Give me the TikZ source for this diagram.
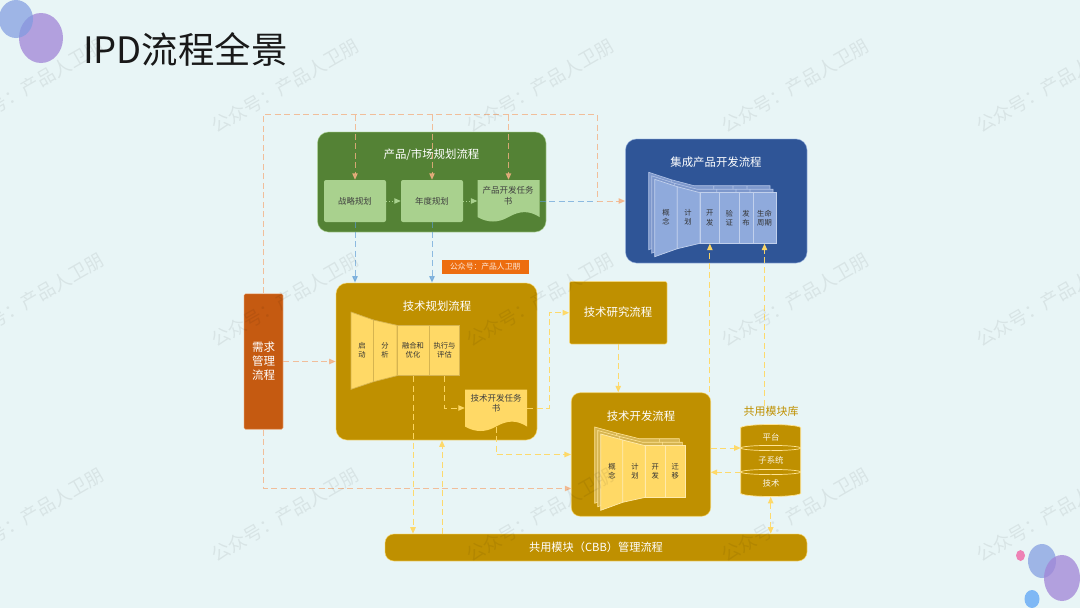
\documentclass[tikz,border=0pt]{standalone}
\usepackage{fontspec}
\setmainfont{Noto Sans CJK SC}
\usetikzlibrary{arrows.meta,positioning}
\definecolor{bgc}{HTML}{E8F5F6}
\definecolor{pmc}{HTML}{548235}
\definecolor{pmlt}{HTML}{A9D18E}
\definecolor{jcc}{HTML}{2F5597}
\definecolor{jclt}{HTML}{8FAADC}
\definecolor{jcbk}{HTML}{7E98CC}
\definecolor{tec}{HTML}{BF9000}
\definecolor{telt}{HTML}{FFD966}
\definecolor{tebk}{HTML}{D6B450}
\definecolor{reqc}{HTML}{C55A11}
\definecolor{peach}{HTML}{F4B183}
\definecolor{skyc}{HTML}{5B9BD5}
\definecolor{dotb}{HTML}{7F9BE0}
\definecolor{dotv}{HTML}{A184D6}
\definecolor{dotp}{HTML}{F06EAA}
\definecolor{dots}{HTML}{7FB8F5}
\definecolor{tagc}{HTML}{ED6D0F}
\newcommand{\docshape}[2]{\fill[#1,shift={(#2)}] (0,0) -- (62,0) -- (62,37) .. controls (51,30) and (42,31) .. (31,37) .. controls (21,43) and (10,43) .. (0,37) -- cycle;}
\begin{document}
\begin{tikzpicture}[x=1pt,y=-1pt,>={Stealth[length=6.5pt,width=5.5pt,inset=0pt]},
	panel/.style={rounded corners=11pt,inner sep=0pt,text=white,draw opacity=.6,line width=.7pt},
	pm_box/.style={panel,fill=pmc,draw=pmlt},
	jc_box/.style={panel,fill=jcc,draw=jclt},
	te_box/.style={panel,fill=tec,draw=telt},
	heading/.style={inner sep=0pt,text=white,font=\fontsize{11.4}{14}\selectfont},
	pm_step/.style={fill=pmlt,rounded corners=2pt,minimum width=62pt,minimum height=42pt,inner sep=0pt,text=black!75,font=\fontsize{8.4}{11}\selectfont},
	jc_sheet/.style={fill=jclt,draw=jclt!55!white,line width=.7pt},
	jc_back/.style={fill=jcbk,draw=jclt!70!white,line width=.6pt},
	te_sheet/.style={fill=telt,draw=tebk,line width=.7pt},
	td_sheet/.style={fill=telt,draw=telt!55!white,line width=.7pt},
	te_back/.style={fill=tebk,draw=telt!70!white,line width=.6pt},
	cell/.style={minimum height=#1,inner sep=0pt,text=black!80,align=center,font=\fontsize{7.3}{9.2}\selectfont},
	doc_text/.style={inner sep=0pt,align=center,text=black!75,font=\fontsize{8.5}{10.7}\selectfont},
	doc_box/.style={minimum width=62pt,inner sep=0pt},
	lib_line/.style={draw=telt!70!white,line width=.7pt},
	lib_text/.style={inner sep=0pt,text=white!90!tec,font=\fontsize{8.4}{10}\selectfont},
	link/.style={line width=1pt,dash pattern=on 6pt off 3.5pt,opacity=.8},
	plink/.style={link,draw=peach,-},
	blink/.style={link,draw=skyc,opacity=.65},
	ylink/.style={link,draw=telt,opacity=.95},
	glink/.style={line width=1pt,draw=pmlt,dotted},
	mark_text/.style={inner sep=0pt,rotate=30,text=black,opacity=.065,font=\fontsize{18.5}{20}\selectfont}]
	\path[use as bounding box,clip] (0,0) rectangle (1080,608);
	\fill[bgc] (0,0) rectangle (1080,608);

	\fill[dotv,opacity=.75] (41,38) ellipse (22pt and 25pt);
	\fill[dotb,opacity=.7] (16,19) ellipse (17pt and 19pt);
	\fill[dotp,opacity=.85] (1020.5,555.5) ellipse (4.5pt and 5.5pt);
	\fill[dotb,opacity=.7] (1042,561) ellipse (14pt and 17pt);
	\fill[dotv,opacity=.75] (1062,578) ellipse (18pt and 23pt);
	\fill[dots] (1032,599) ellipse (7.5pt and 9pt);
	\node[inner sep=0pt,anchor=west,text=black!90,font=\fontsize{36.4}{40}\selectfont] (title) at (83,49) {IPD流程全景};

	\node[pm_box,minimum width=228.5pt,minimum height=100pt] (pm) at (431.75,182) {};
	\node[heading] (pm_t) at (431.5,154.5) {产品/市场规划流程};
	\node[pm_step] (pm_0) at (355,201) {战略规划};
	\node[pm_step] (pm_1) at (432,201) {年度规划};
	\docshape{pmlt}{477.5,180}
	\node[doc_box,minimum height=42pt] (pm_2) at (508.5,201) {};
	\node[doc_text] (pm_2t) at (508,195.5) {产品开发任务\\书};

	\node[jc_box,minimum width=181.5pt,minimum height=124pt] (jc) at (716.25,201) {};
	\node[heading] (jc_t) at (716,162) {集成产品开发流程};
	\foreach \d/\e in {-6/-7,-3/-3.5}
		\draw[jc_back,shift={(\d,\e)}] (654.7,179.3) -- (677.3,186.7) -- (700,192.7) -- (776,192.7) -- (776,243.3) -- (700,243.3) -- (677.3,248.7) -- (654.7,256.7) -- cycle
			(677.3,186.7) -- (677.3,248.7) (719.7,192.7) -- (719.7,243.3) (739,192.7) -- (739,243.3) (753,192.7) -- (753,243.3);
	\draw[jc_sheet] (654.7,179.3) -- (677.3,186.7) -- (677.3,248.7) -- (654.7,256.7) -- cycle;
	\draw[jc_sheet] (677.3,186.7) -- (700,192.7) -- (700,243.3) -- (677.3,248.7) -- cycle;
	\node[cell=1pt] (jc_0) at (666,217.5) {概\\念};
	\node[cell=1pt] (jc_1) at (688,217.5) {计\\划};
	\node[jc_sheet,cell=50.6pt,minimum width=19.7pt] (jc_2) at (709.85,218) {开\\发};
	\node[jc_sheet,cell=50.6pt,minimum width=19.3pt] (jc_3) at (729.35,218) {验\\证};
	\node[jc_sheet,cell=50.6pt,minimum width=14pt] (jc_4) at (746,218) {发\\布};
	\node[jc_sheet,cell=50.6pt,minimum width=23pt] (jc_5) at (764.5,218) {生命\\周期};

	\node[te_box,minimum width=201pt,minimum height=157pt] (tp) at (436.5,361.5) {};
	\node[heading] (tp_t) at (437,306) {技术规划流程};
	\draw[te_sheet] (351,312) -- (373.5,320) -- (373.5,381.7) -- (351,389.3) -- cycle;
	\draw[te_sheet] (373.5,320) -- (397,325.3) -- (397,375.7) -- (373.5,381.7) -- cycle;
	\node[cell=1pt] (tp_0) at (362,350.5) {启\\动};
	\node[cell=1pt] (tp_1) at (385,350.5) {分\\析};
	\node[te_sheet,cell=50.4pt,minimum width=32pt] (tp_2) at (413,350.5) {融合和\\优化};
	\node[te_sheet,cell=50.4pt,minimum width=30pt] (tp_3) at (444.5,350.5) {执行与\\评估};
	\docshape{telt}{465,389.5}
	\node[doc_box,minimum height=37pt] (tp_4) at (496,408) {};
	\node[doc_text] (tp_4t) at (496,403.3) {技术开发任务\\书};

	\node[te_box,rounded corners=2pt,minimum width=97.5pt,minimum height=62.5pt] (tr) at (618.25,312.75) {};
	\node[heading] (tr_t) at (618,312) {技术研究流程};

	\node[te_box,rounded corners=9pt,minimum width=139.4pt,minimum height=123.6pt] (td) at (641,454.5) {};
	\node[heading] (td_t) at (641,415.7) {技术开发流程};
	\foreach \d/\e in {-6/-7,-3/-3.5}
		\draw[te_back,shift={(\d,\e)}] (600.7,434) -- (622.7,440) -- (645.3,445.7) -- (685.3,445.7) -- (685.3,497.3) -- (645.3,497.3) -- (622.7,502.3) -- (600.7,510.3) -- cycle
			(622.7,440) -- (622.7,502.3) (665.3,445.7) -- (665.3,497.3);
	\draw[td_sheet] (600.7,434) -- (622.7,440) -- (622.7,502.3) -- (600.7,510.3) -- cycle;
	\draw[td_sheet] (622.7,440) -- (645.3,445.7) -- (645.3,497.3) -- (622.7,502.3) -- cycle;
	\node[cell=1pt] (td_0) at (612,471.5) {概\\念};
	\node[cell=1pt] (td_1) at (635,471.5) {计\\划};
	\node[td_sheet,cell=51.6pt,minimum width=20pt] (td_2) at (655.3,471.5) {开\\发};
	\node[td_sheet,cell=51.6pt,minimum width=20pt] (td_3) at (675.3,471.5) {迁\\移};

	\node[heading,text=tec,font=\fontsize{11}{13}\selectfont] (lib_t) at (771,411) {共用模块库};
	\draw[lib_line,fill=tec] (740.7,427.5) .. controls (746,423.5) and (795.5,423.5) .. (800.7,427.5) -- (800.7,493.5) .. controls (795.5,497.5) and (746,497.5) .. (740.7,493.5) -- cycle;
	\node[minimum width=60pt,minimum height=72.4pt,inner sep=0pt] (lib) at (770.7,460.5) {};
	\draw[lib_line] (770.7,448) ellipse (30pt and 2.6pt);
	\draw[lib_line] (770.7,472) ellipse (30pt and 2.6pt);
	\node[lib_text] (lib_0) at (771,437) {平台};
	\node[lib_text] (lib_1) at (771,460) {子系统};
	\node[lib_text] (lib_2) at (771,483) {技术};

	\node[te_box,rounded corners=9pt,minimum width=422pt,minimum height=27pt] (cbb) at (596,547.5) {};
	\node[heading,font=\fontsize{11.2}{13}\selectfont] (cbb_t) at (596,547.5) {共用模块（CBB）管理流程};

	\node[fill=reqc,rounded corners=1.5pt,draw=peach,draw opacity=.6,line width=.6pt,minimum width=39pt,minimum height=135.5pt,inner sep=0pt,text=white,align=center,font=\fontsize{11.5}{14}\selectfont] (req) at (263.5,361.5) {需求\\管理\\流程};
	\node[fill=tagc,minimum width=87.5pt,minimum height=14pt,inner sep=0pt,text=white!85!tagc,font=\fontsize{7.8}{9}\selectfont] (tag) at (485.25,267) {公众号：产品人卫朋};

	\coordinate (c_top) at (597,114.5);
	\coordinate (c_in) at (597,201);
	\coordinate (c_low) at (571.3,488.5);
	\coordinate (c_mid) at (549,360);
	\coordinate (c_up) at (442,534);
	\coordinate (c_a) at (710.7,448);
	\coordinate (c_b) at (740.7,448);
	\coordinate (c_c) at (740.7,472.3);
	\coordinate (c_d) at (710.7,472.3);

	\draw[plink] (req.north) |- (c_top) -- (c_in);
	\draw[plink,->] (pm_0.north |- c_top) -- (pm_0.north);
	\draw[plink,->] (pm_1.north |- c_top) -- (pm_1.north);
	\draw[plink,->] (pm_2.north |- c_top) -- (pm_2.north);
	\draw[plink,->] (req.east) -- (tp.west);
	\draw[plink,->] (req.south) |- (c_low);
	\draw[blink] (pm_2.east) -- (c_in);
	\draw[plink,->] (c_in) -- (jc.west);
	\draw[blink,->] (pm_0.south) -- (pm_0.south |- tp.north);
	\draw[blink,->] (pm_1.south) -- (pm_1.south |- tp.north);
	\draw[glink,->] (pm_0.east) -- (pm_1.west);
	\draw[glink,->] (pm_1.east) -- (pm_2.west);
	\draw[ylink,->] (tp_2.south) -- (tp_2.south |- cbb.north);
	\draw[ylink,->] (c_up) -- (c_up |- tp.south);
	\draw[ylink,->] (tp_3.south) |- (tp_4.west);
	\draw[ylink,->] (tp_4.east) -- (c_mid |- tp_4.east) -- (c_mid |- tr.west) -- (tr.west);
	\draw[ylink,->] (tp_4.south) |- (td.west);
	\draw[ylink,->] (tr.south) -- (tr.south |- td.north);
	\draw[ylink,->] (jc_2.south |- td.north) -- (jc_2.south);
	\draw[ylink,->] (jc_5.south |- lib_t.north) -- (jc_5.south);
	\draw[ylink,->] (c_a) -- (c_b);
	\draw[ylink,->] (c_c) -- (c_d);
	\draw[ylink,<->] (lib.south) -- (lib.south |- cbb.north);

	\foreach \x in {30,285,540,795,1050}
		\foreach \y in {86,300,515}
			\node[mark_text] (mark_\x_\y) at (\x,\y) {公众号：产品人卫朋};
\end{tikzpicture}
\end{document}
